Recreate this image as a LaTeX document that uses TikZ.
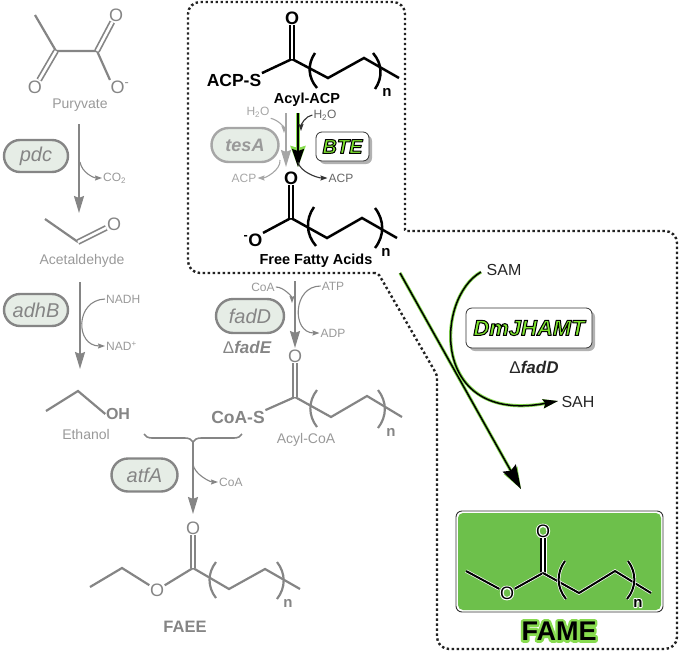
\documentclass[tikz,border=0pt]{standalone}
\usepackage{fontspec}
\setmainfont{Liberation Sans}
\setsansfont{Liberation Sans}
\usepackage{xcolor}
\definecolor{gline}{HTML}{858585}
\definecolor{gpale}{HTML}{A6A6A6}
\definecolor{gtext}{HTML}{999999}
\definecolor{pale}{HTML}{E6EDE6}
\definecolor{glow}{HTML}{86DB4E}
\definecolor{lime}{HTML}{7FE62F}
\definecolor{fame}{HTML}{6DC04B}
\definecolor{dots}{HTML}{222222}
\usepackage{tikz}
\usetikzlibrary{arrows.meta,shapes.misc,shadows,decorations.pathreplacing}
\newcommand{\inked}[1]{\textcolor{lime}{\special{pdf:literal direct 2 Tr 1 j 1 w 0 0 0 RG}#1\special{pdf:literal direct 0 Tr 0 j}}}
\newcommand{\halo}[3]{\rlap{\special{pdf:literal direct 2 Tr 1 j #1 w #2 RG #2 rg}#3\special{pdf:literal direct 0 Tr 0 j 0 0 0 rg}}#3}
\tikzset{
  font=\sffamily,
  atom/.style={inner sep=0.5pt,font=\sffamily\fontsize{18}{20}\selectfont},
  atomg/.style={atom,text=gline},
  atomb/.style={atom,font=\sffamily\bfseries\fontsize{18}{20}\selectfont},
  grp/.style={atomb,font=\sffamily\bfseries\fontsize{17.5}{19}\selectfont},
  grpg/.style={grp,text=gline},
  sub/.style={inner sep=0.5pt,font=\sffamily\bfseries\fontsize{15}{17}\selectfont},
  subg/.style={sub,text=gline},
  lbl/.style={inner sep=1pt,text=gtext,font=\sffamily\fontsize{14}{16}\selectfont},
  lbk/.style={lbl,text=black,font=\sffamily\bfseries\fontsize{14.5}{16}\selectfont},
  small/.style={inner sep=1pt,text=gtext,font=\sffamily\fontsize{12}{14}\selectfont},
  smallk/.style={small,text=black!75},
  big/.style={inner sep=1pt,text=black!85,font=\sffamily\fontsize{16}{18}\selectfont},
  pill/.style={rounded rectangle,draw=gline,line width=2.4pt,fill=pale,text=gline,
               inner sep=0pt,minimum width=64pt,minimum height=32pt,
               font=\sffamily\itshape\fontsize{20}{22}\selectfont},
  whitebox/.style={draw=black!80,line width=0.8pt,rounded corners=6pt,fill=white,inner sep=0pt,
                   drop shadow={shadow xshift=3pt,shadow yshift=-3pt,fill=black!30,opacity=1}},
  bond/.style={line width=2.5pt,draw=black},
  bondg/.style={line width=2.2pt,draw=gline},
  bondf/.style={line width=2pt,draw=black,preaction={draw=white,line width=3.4pt}},
  dbl/.style={double=white,double distance=2.6pt,line width=1.7pt,draw=black},
  dblg/.style={dbl,draw=gline},
  dblf/.style={dbl,preaction={draw=white,line width=7pt}},
  lbrk/.style={bend right=38},
  rbrk/.style={bend left=38},
  flowg/.style={-{Stealth[length=17pt,width=10pt,inset=2pt]},line width=2pt,draw=gline},
  flowp/.style={flowg,draw=gpale},
  flowk/.style={-{Stealth[length=18pt,width=12pt,inset=2pt]},line width=1.5pt,draw=black,
                preaction={draw=glow,line width=3.2pt,
                           -{Stealth[length=21pt,width=15pt,inset=2pt]}}},
  curveg/.style={-{Stealth[length=7pt,width=5pt,inset=1pt]},line width=1.1pt,draw=gline},
  curvep/.style={curveg,draw=gpale},
  curvek/.style={curveg,draw=black!80},
  curvef/.style={-{Stealth[length=15pt,width=9pt,inset=2pt]},line width=1.5pt,draw=black,
                 preaction={draw=glow,line width=3.2pt}},
  region/.style={draw=dots,line width=2.4pt,dash pattern=on 2.4pt off 2.6pt,rounded corners=12pt},
}
\begin{document}
\begin{tikzpicture}[x=1pt,y=-1pt]
  \useasboundingbox (0,0) rectangle (685,656);

  \draw[region] (378,273) -- (188,273) -- (188,2) -- (405,2) [rounded corners=1pt] -- (405,231)
     [rounded corners=12pt] -- (677,231) -- (677,649) -- (437,649) [rounded corners=3pt] -- (437,375) -- cycle;

  \node[atomg] (pyrO1) at (116,15) {O};
  \node[atomg] (pyrO2) at (35,87) {O};
  \node[atomg] (pyrO3) at (120,87) {O\textsuperscript{-}};
  \coordinate (pyrM) at (35,15);
  \coordinate (pyrC1) at (56,51);
  \coordinate (pyrC2) at (97,51);
  \draw[bondg] (pyrM) -- (pyrC1) -- (pyrC2) -- (pyrO3.north west);
  \draw[dblg] (pyrC1) -- (pyrO2);
  \draw[dblg] (pyrC2) -- (pyrO1);
  \node[lbl] (pyrL) at (80,105) {Puryvate};

  \node[pill] (pdc) at (36,156) {pdc};
  \coordinate (pdcA) at (79,124);
  \coordinate (pdcB) at (79,213);
  \coordinate (pdcM) at (80,162);
  \draw[flowg] (pdcA) -- (pdcB);
  \node[small,anchor=west] (co2) at (102,178) {CO\textsubscript{2}};
  \draw[curveg] (pdcM) .. controls +(2,11) and +(-8,0) .. (co2.west);

  \node[atomg] (aldO) at (114,224) {O};
  \coordinate (aldM) at (45,219);
  \coordinate (aldC) at (78,242);
  \draw[bondg] (aldM) -- (aldC);
  \draw[dblg] (aldC) -- (aldO);
  \node[lbl] (aldL) at (82,261) {Acetaldehyde};

  \node[pill] (adhB) at (36,310) {adhB};
  \coordinate (adhA) at (80,282);
  \coordinate (adhE) at (80,369);
  \draw[flowg] (adhA) -- (adhE);
  \node[small,anchor=west] (nadh) at (105,299) {NADH};
  \node[small,anchor=west] (nadp) at (105,346) {NAD\textsuperscript{+}};
  \draw[curveg] (nadh.west) .. controls +(-30,1) and +(-30,0) .. (nadp.west);

  \node[atomg,font=\sffamily\bfseries\fontsize{16}{18}\selectfont] (etO) at (118,414) {OH};
  \coordinate (etM) at (46,411);
  \coordinate (etC) at (78,391);
  \draw[bondg] (etM) -- (etC) -- (etO.west);
  \node[lbl] (etL) at (86,434) {Ethanol};

  \node[atomb] (acpO) at (292,18) {O};
  \coordinate (acpC) at (292,59);
  \coordinate (acpA) at (328,78);
  \coordinate (acpB) at (364,58);
  \coordinate (acpD) at (399,78);
  \node[grp] (acpS) at (234,80) {ACP-S};
  \draw[bond] (acpS.north east) -- (acpC) -- (acpA) -- (acpB) -- (acpD);
  \draw[dbl] (acpC) -- (acpO);
  \coordinate (acpL1) at (315,53);
  \coordinate (acpL2) at (317,88);
  \coordinate (acpR1) at (373,53);
  \coordinate (acpR2) at (375,89);
  \draw[bond] (acpL1) to[lbrk] (acpL2);
  \draw[bond] (acpR1) to[rbrk] (acpR2);
  \node[sub] (acpN) at (387,92) {n};
  \node[lbk] (acpL) at (307,100) {Acyl-ACP};

  \coordinate (tesA1) at (286,113);
  \coordinate (tesA2) at (286,167);
  \coordinate (bte1) at (298,113);
  \coordinate (bte2) at (298,167);
  \draw[flowp] (tesA1) -- (tesA2);
  \draw[flowk] (bte1) -- (bte2);
  \node[pill,draw=gpale,text=gtext,font=\sffamily\bfseries\itshape\fontsize{18}{20}\selectfont,
        minimum width=67pt,minimum height=34pt] (tesA) at (245,145) {tesA};
  \node[whitebox,minimum width=53pt,minimum height=29pt] (bte) at (342.5,146.5)
       {\fontsize{20}{22}\selectfont\bfseries\itshape\inked{BTE}};
  \node[small,text=gpale] (wat1) at (258,112) {H\textsubscript{2}O};
  \node[smallk,text=black!60] (wat2) at (325,115) {H\textsubscript{2}O};
  \node[small,text=gpale] (acp1) at (244,178) {ACP};
  \node[smallk,text=black!60] (acp2) at (341,178) {ACP};
  \coordinate (wat1e) at (284,133);
  \coordinate (wat2e) at (301,131);
  \coordinate (acp1s) at (280,160);
  \coordinate (acp2s) at (298,162);
  \draw[curvep] (wat1.south east) .. controls +(8,2) and +(0,-6) .. (wat1e);
  \draw[curvek] (wat2.west) .. controls +(-7,1) and +(0,-6) .. (wat2e);
  \draw[curvep] (acp1s) .. controls +(1,10) and +(8,0) .. (acp1.east);
  \draw[curvek] (acp2s) .. controls +(2,10) and +(-10,0) .. (acp2.west);

  \node[atomb] (ffaO) at (291,178) {O};
  \coordinate (ffaC) at (291,218);
  \coordinate (ffaA) at (327,238);
  \coordinate (ffaB) at (362,218);
  \coordinate (ffaD) at (397,238);
  \node[atomb] (ffaS) at (253,240) {\textsuperscript{-}O};
  \draw[bond] (ffaS.north east) -- (ffaC) -- (ffaA) -- (ffaB) -- (ffaD);
  \draw[dbl] (ffaC) -- (ffaO);
  \coordinate (ffaL1) at (314,207);
  \coordinate (ffaL2) at (316,246);
  \coordinate (ffaR1) at (375,208);
  \coordinate (ffaR2) at (375,248);
  \draw[bond] (ffaL1) to[lbrk] (ffaL2);
  \draw[bond] (ffaR1) to[rbrk] (ffaR2);
  \node[sub] (ffaN) at (386,252) {n};
  \node[lbk] (ffaL) at (316,261) {Free Fatty Acids};

  \coordinate (fadA) at (295,281);
  \coordinate (fadB) at (295,348);
  \draw[flowg] (fadA) -- (fadB);
  \node[pill,minimum width=68pt,minimum height=34pt] (fadD) at (250,316) {fadD};
  \node[inner sep=0pt,text=gline,font=\sffamily\bfseries\itshape\fontsize{17}{19}\selectfont] (fadE)
       at (247,347) {{\normalfont\mdseries Δ}fadE};
  \node[small] (coa1) at (263,287) {CoA};
  \node[small] (atp) at (333,286) {ATP};
  \node[small] (adp) at (333,333) {ADP};
  \coordinate (coa1e) at (292,303);
  \draw[curveg] (coa1.east) .. controls +(8,0) and +(0,-6) .. (coa1e);
  \draw[curveg] (atp.west) .. controls +(-28,0) and +(-28,0) .. (adp.west);

  \node[atomg] (coaO) at (295,356) {O};
  \coordinate (coaC) at (295,397);
  \coordinate (coaA) at (331,417);
  \coordinate (coaB) at (367,396);
  \coordinate (coaD) at (402,417);
  \node[grpg] (coaS) at (238,417) {CoA-S};
  \draw[bondg] (coaS.north east) -- (coaC) -- (coaA) -- (coaB) -- (coaD);
  \draw[dblg] (coaC) -- (coaO);
  \coordinate (coaL1) at (317,390);
  \coordinate (coaL2) at (317,427);
  \coordinate (coaR1) at (378,390);
  \coordinate (coaR2) at (378,428);
  \draw[bondg] (coaL1) to[lbrk] (coaL2);
  \draw[bondg] (coaR1) to[rbrk] (coaR2);
  \node[subg] (coaN) at (391,432) {n};
  \node[lbl] (coaL) at (306,440) {Acyl-CoA};

  \coordinate (brL) at (144,434);
  \coordinate (brR) at (242,434);
  \coordinate (atfA1) at (193,441);
  \coordinate (atfA2) at (193,514);
  \coordinate (atfM) at (193,464);
  \draw[line width=1.6pt,draw=gline,decorate,decoration={brace,amplitude=8pt,mirror}] (brL) -- (brR);
  \draw[flowg] (atfA1) -- (atfA2);
  \node[pill,minimum width=66pt,minimum height=33pt] (atfA) at (144.5,475) {atfA};
  \node[small,anchor=west] (coa2) at (218,482) {CoA};
  \draw[curveg] (atfM) .. controls +(1,10) and +(-8,0) .. (coa2.west);

  \node[atomg] (eeO) at (193,528) {O};
  \coordinate (eeC) at (193,568);
  \node[atomg] (eeS) at (157,590) {O};
  \coordinate (eeE1) at (122,568);
  \coordinate (eeE2) at (90,587);
  \coordinate (eeA) at (229,589);
  \coordinate (eeB) at (265,569);
  \coordinate (eeD) at (300,589);
  \draw[bondg] (eeE2) -- (eeE1) -- (eeS) -- (eeC) -- (eeA) -- (eeB) -- (eeD);
  \draw[dblg] (eeC) -- (eeO);
  \coordinate (eeL1) at (216,562);
  \coordinate (eeL2) at (216,598);
  \coordinate (eeR1) at (277,562);
  \coordinate (eeR2) at (277,599);
  \draw[bondg] (eeL1) to[lbrk] (eeL2);
  \draw[bondg] (eeR1) to[rbrk] (eeR2);
  \node[subg] (eeN) at (288,603) {n};
  \node[inner sep=0pt,text=gline,font=\sffamily\bfseries\fontsize{16.5}{18}\selectfont] (eeL) at (185,627) {FAEE};

  \coordinate (mainA) at (400,273);
  \coordinate (mainB) at (521,489);
  \draw[flowk,-{Stealth[length=24pt,width=15pt,inset=3pt]}] (mainA) -- (mainB);
  \node[big] (sam) at (504,270) {SAM};
  \node[big] (sah) at (578,402) {SAH};
  \coordinate (samS) at (481,272);
  \coordinate (sahE) at (558,401);
  \draw[curvef] (samS) .. controls (435,298) and (430,425) .. (sahE);
  \node[whitebox,minimum width=126pt,minimum height=40pt] (jhamt) at (529,328)
       {\fontsize{22}{24}\selectfont\bfseries\itshape\inked{DmJHAMT}};
  \node[inner sep=0pt,text=black!85,font=\sffamily\bfseries\itshape\fontsize{17}{19}\selectfont] (fadDel)
       at (534,367) {{\normalfont\mdseries Δ}fadD};

  \node[draw=black!80,line width=0.9pt,fill=white,rounded corners=6pt,inner sep=0pt,
        minimum width=207pt,minimum height=101pt] (fameBox) at (559.5,561.5) {};
  \node[fill=fame,rounded corners=5pt,inner sep=0pt,
        minimum width=203pt,minimum height=97pt] (fameIn) at (559.5,561.5) {};
  \coordinate (meM) at (466,571);
  \coordinate (meC) at (543,573);
  \coordinate (meA) at (579,593);
  \coordinate (meB) at (615,571);
  \coordinate (meD) at (651,593);
  \node[atom] (meO) at (543,531) {\halo{2}{1 1 1}{O}};
  \node[atom] (meS) at (507,593) {\halo{2}{1 1 1}{O}};
  \draw[dblf] (meC) -- (meO);
  \draw[bondf] (meM) -- (meS);
  \draw[bondf] (meS) -- (meC);
  \draw[bondf] (meC) -- (meA) -- (meB) -- (meD);
  \coordinate (meL1) at (565,561);
  \coordinate (meL2) at (566,599);
  \coordinate (meR1) at (628,561);
  \coordinate (meR2) at (627,599);
  \draw[bondf] (meL1) to[lbrk] (meL2);
  \draw[bondf] (meR1) to[rbrk] (meR2);
  \node[sub] (meN) at (638,603) {\halo{2}{1 1 1}{n}};
  \node[inner sep=0pt,font=\sffamily\bfseries\fontsize{27}{29}\selectfont] (fameL) at (559,631)
       {\halo{5}{0.53 0.86 0.31}{FAME}};
\end{tikzpicture}
\end{document}
